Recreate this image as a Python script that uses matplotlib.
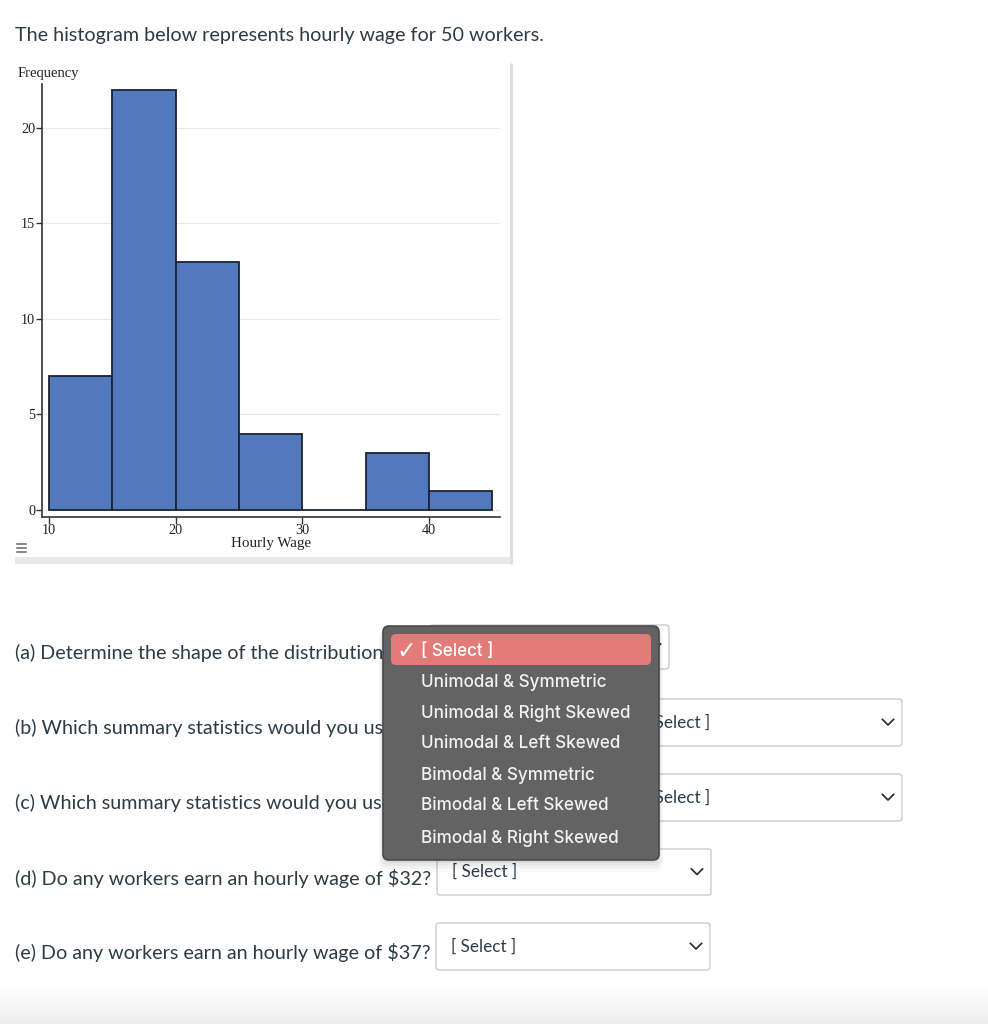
import matplotlib
matplotlib.use("Agg")
import numpy as np
import matplotlib.pyplot as plt
from matplotlib.patches import Rectangle, FancyBboxPatch

# ---------------- data ----------------
bin_edges = [10, 15, 20, 25, 30, 35, 40, 45]
counts = [7, 22, 13, 4, 0, 3, 1]
x_ticks = [10, 20, 30, 40]
y_ticks = [0, 5, 10, 15, 20]
title = "The histogram below represents hourly wage for 50 workers."
questions = [
    "(a) Determine the shape of the distribution",
    "(b) Which summary statistics would you use",
    "(c) Which summary statistics would you use",
    "(d) Do any workers earn an hourly wage of $32?",
    "(e) Do any workers earn an hourly wage of $37?",
]
menu_items = [
    "Unimodal & Symmetric",
    "Unimodal & Right Skewed",
    "Unimodal & Left Skewed",
    "Bimodal & Symmetric",
    "Bimodal & Left Skewed",
    "Bimodal & Right Skewed",
]

W, H = 988, 1024
fig = plt.figure(figsize=(W / 100, H / 100), dpi=100)
fig.patch.set_facecolor("white")

bg = fig.add_axes([0, 0, 1, 1], zorder=0)
bg.set_xlim(0, W)
bg.set_ylim(H, 0)
bg.axis("off")

TXT = "#2d3b45"
PAGE_FONT = ["Lato", "DejaVu Sans"]
MENU_FONT = ["Inter", "DejaVu Sans"]
SERIF = ["Liberation Serif", "DejaVu Serif"]

# bottom page gradient
grad = np.linspace(1.0, 0.935, 50).reshape(-1, 1)
bg.imshow(np.dstack([grad, grad, grad]), extent=(0, W, H, 985), aspect="auto", zorder=0)
bg.set_xlim(0, W)
bg.set_ylim(H, 0)

bg.text(15, 35, title, fontsize=14.2, family=PAGE_FONT, color=TXT, va="center", ha="left")

# chart container
bg.plot([511, 511], [63, 564], color="#dddddd", lw=2, solid_capstyle="butt")
bg.add_patch(Rectangle((15, 557), 497, 7, color="#e9e9e9", lw=0))
for yy in (544, 548, 552):
    bg.plot([17, 26], [yy, yy], color="#666666", lw=1.1)
bg.text(18, 73, "Frequency", fontsize=10.5, family=SERIF, color="#222222", va="center", ha="left")
bg.text(271, 543, "Hourly Wage", fontsize=10.8, family=SERIF, color="#222222", va="center", ha="center")

# ---------------- histogram ----------------
px_left, px_right, px_top, px_bot = 42, 500, 84, 517
ax = fig.add_axes([px_left / W, 1 - px_bot / H, (px_right - px_left) / W, (px_bot - px_top) / H], zorder=2)
ax.patch.set_alpha(0)
lefts = bin_edges[:-1]
widths = [b - a for a, b in zip(bin_edges[:-1], bin_edges[1:])]
ax.bar(lefts, counts, width=widths, align="edge", color="#5279bd",
       edgecolor="#1c2333", linewidth=1.3, zorder=3)
ax.set_xlim(9.45, 45.6)
ax.set_ylim(-0.37, 22.3)
ax.set_xticks(x_ticks)
ax.set_yticks(y_ticks)
ax.yaxis.grid(True, color="#e8e8e8", lw=0.9, zorder=0)
ax.set_axisbelow(True)
for s in ("top", "right"):
    ax.spines[s].set_visible(False)
for s in ("left", "bottom"):
    ax.spines[s].set_color("#333333")
    ax.spines[s].set_linewidth(1.2)
ax.tick_params(axis="x", direction="out", length=5, width=1, color="#333333", pad=0,
               labelsize=10.3, labelcolor="#222222")
ax.tick_params(axis="y", direction="out", length=4, width=1, color="#333333", pad=1,
               labelsize=10.3, labelcolor="#222222")
for lab in ax.get_xticklabels() + ax.get_yticklabels():
    lab.set_family(SERIF)

# ---------------- questions & select boxes ----------------
q_y = [653, 728, 803, 878, 952]
for q, yy in zip(questions, q_y):
    t = bg.text(15, yy, q, fontsize=14.2, family=PAGE_FONT, color=TXT, va="center", ha="left")
    if yy in (653, 728, 803):
        clip = Rectangle((0, yy - 20), 383, 40, transform=bg.transData)
        t.set_clip_path(clip)


def select_box(x0, y0, x1, y1, show_text=True, text_x=None):
    bg.add_patch(FancyBboxPatch((x0, y0), x1 - x0, y1 - y0,
                                boxstyle="round,pad=0,rounding_size=3",
                                facecolor="white", edgecolor="#c8cdd0", lw=1))
    cx, cy = x1 - 14, (y0 + y1) / 2
    bg.plot([cx - 5.5, cx, cx + 5.5], [cy - 3, cy + 2.5, cy - 3], color="#333333", lw=1.3)
    if show_text:
        t = bg.text(text_x if text_x else x0 + 15, cy, "[ Select ]", fontsize=12.3,
                    family=PAGE_FONT, color=TXT, va="center", ha="left")
        return t


select_box(430, 625, 669, 669, show_text=False)
for (y0, y1) in ((699, 746), (774, 821)):
    t = select_box(630, y0, 902, y1, text_x=645)
    t.set_clip_path(Rectangle((659, y0), 50, y1 - y0, transform=bg.transData))
select_box(437, 849, 711, 895)
select_box(436, 923, 710, 970)

# ---------------- dropdown menu ----------------
for i, a in enumerate([0.05, 0.04, 0.03, 0.02]):
    d = 2 + i * 2
    bg.add_patch(FancyBboxPatch((383 - d / 2, 626 + d / 2), 276 + d, 234 + d,
                                boxstyle="round,pad=0,rounding_size=8",
                                facecolor="black", edgecolor="none", alpha=a, zorder=4))
bg.add_patch(FancyBboxPatch((383, 626), 276, 234, boxstyle="round,pad=0,rounding_size=6",
                            facecolor="#636363", edgecolor="#4a4a4a", lw=1.2, zorder=5))
bg.add_patch(FancyBboxPatch((391, 634), 260, 31, boxstyle="round,pad=0,rounding_size=5",
                            facecolor="#e37b78", edgecolor="none", zorder=6))
bg.text(396, 651, "\u2713", fontsize=17, family=["DejaVu Sans"], color="white",
        va="center", ha="left", zorder=7, fontweight="bold")
bg.text(421, 651, "[ Select ]", fontsize=12.3, family=MENU_FONT, color="white",
        va="center", ha="left", zorder=7, fontweight="medium")
item_y = [682, 713, 744, 775, 806, 838]
for it, yy in zip(menu_items, item_y):
    bg.text(421, yy, it, fontsize=12.3, family=MENU_FONT, color="#f2f2f2",
            va="center", ha="left", zorder=7, fontweight="medium")

fig.savefig("out.png", dpi=100, facecolor="white")
